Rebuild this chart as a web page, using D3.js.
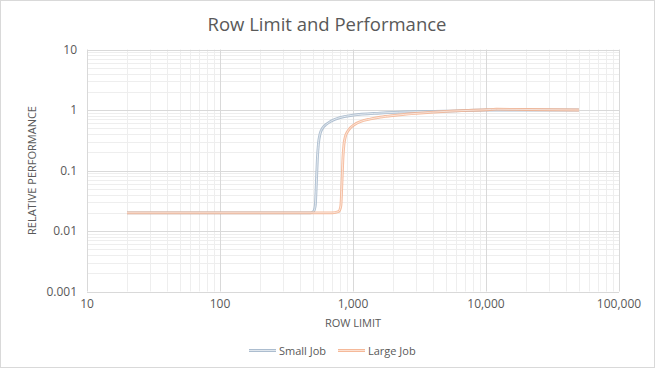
<!DOCTYPE html>
<html><head><meta charset="utf-8">
<script src="https://cdn.jsdelivr.net/npm/d3@7/dist/d3.min.js"></script>
<style>body{margin:0;background:#fff}svg{display:block;font-family:"Open Sans",Lato,sans-serif}</style>
</head><body><svg id="c" width="655" height="368"></svg>
<script>
const smallX = [20, 100, 300, 480, 505, 520, 530, 540, 550, 565, 590, 630, 680, 800, 1000, 1600, 3000, 5000, 10000, 20000, 50000];
const smallY = [0.02, 0.02, 0.02, 0.02, 0.021, 0.026, 0.06, 0.16, 0.28, 0.4, 0.5, 0.58, 0.65, 0.75, 0.82, 0.89, 0.94, 0.96, 1.0, 1.0, 1.0];
const largeX = [20, 100, 300, 700, 780, 810, 825, 840, 855, 875, 905, 950, 1020, 1130, 1350, 1600, 2000, 3000, 5000, 10000, 12000, 20000, 50000];
const largeY = [0.02, 0.02, 0.02, 0.02, 0.021, 0.026, 0.06, 0.16, 0.27, 0.36, 0.43, 0.5, 0.57, 0.64, 0.71, 0.76, 0.81, 0.88, 0.95, 1.01, 1.03, 1.02, 1.0];
const xTicks = [10, 100, 1000, 10000, 100000];
const yTicks = [0.001, 0.01, 0.1, 1, 10];
const seriesNames = ["Small Job", "Large Job"];
const seriesColors = ["#a3b6ca", "#f4b18e"];

const svg = d3.select("#c");
const L = 87, R = 619, T = 49.5, B = 291.5;
const x = d3.scaleLog().domain([10, 100000]).range([L, R]);
const y = d3.scaleLog().domain([0.001, 10]).range([B, T]);

svg.append("rect").attr("x",0.5).attr("y",0.5).attr("width",654).attr("height",367)
  .attr("fill","#fff").attr("stroke","#d9d9d9");

// minor gridlines
const minorX = [], minorY = [];
for (let d = 10; d < 100000; d *= 10) for (let k = 2; k <= 9; k++) minorX.push(d * k);
for (let d = 0.001; d < 9; d *= 10) for (let k = 2; k <= 9; k++) minorY.push(d * k);
const g = svg.append("g");
g.selectAll(".mx").data(minorX).join("line").attr("x1",d=>Math.round(x(d))+0.5).attr("x2",d=>Math.round(x(d))+0.5)
  .attr("y1",T).attr("y2",B).attr("stroke","#eeeeee").attr("stroke-width",1);
g.selectAll(".my").data(minorY).join("line").attr("y1",d=>Math.round(y(d))+0.5).attr("y2",d=>Math.round(y(d))+0.5)
  .attr("x1",L).attr("x2",R).attr("stroke","#eeeeee").attr("stroke-width",1);
g.selectAll(".Mx").data(xTicks).join("line").attr("x1",d=>Math.round(x(d))+0.5).attr("x2",d=>Math.round(x(d))+0.5)
  .attr("y1",T).attr("y2",B).attr("stroke","#d9d9d9");
g.selectAll(".My").data(yTicks).join("line").attr("y1",d=>Math.round(y(d))+0.5).attr("y2",d=>Math.round(y(d))+0.5)
  .attr("x1",L).attr("x2",R).attr("stroke","#d9d9d9");

// axes labels
const fmtX = d3.format(",");
svg.append("g").selectAll("text").data(xTicks).join("text")
  .attr("x",d=>x(d)).attr("y",B+16).attr("text-anchor","middle")
  .attr("font-size",12).attr("fill","#595959").text(d=>fmtX(d));
svg.append("g").selectAll("text").data(yTicks).join("text")
  .attr("x",L-10).attr("y",d=>y(d)+4).attr("text-anchor","end")
  .attr("font-size",12).attr("fill","#595959").text(d=>String(d));

svg.append("text").attr("x",(L+R)/2).attr("y",327).attr("text-anchor","middle")
  .attr("font-size",11).attr("fill","#595959").text("ROW LIMIT");
svg.append("text").attr("transform",`translate(36,${(T+B)/2}) rotate(-90)`).attr("text-anchor","middle")
  .attr("font-size",11).attr("fill","#595959").text("RELATIVE PERFORMANCE");
svg.append("text").attr("x",327).attr("y",31).attr("text-anchor","middle")
  .attr("font-size",18.5).attr("fill","#595959").text("Row Limit and Performance");

// lines
const line = d3.line().x(d=>x(d[0])).y(d=>y(d[1])).curve(d3.curveMonotoneX);
const series = [d3.zip(smallX, smallY), d3.zip(largeX, largeY)];
const lighter = ["#e6ecf2", "#fde8dc"];
series.forEach((s, i) => {
  const gg = svg.append("g").attr("opacity", 0.85);
  gg.append("path").attr("d", line(s)).attr("fill","none").attr("stroke",seriesColors[i]).attr("stroke-width",2.8);
  gg.append("path").attr("d", line(s)).attr("fill","none").attr("stroke",lighter[i]).attr("stroke-width",0.9);
});

// legend
const lg = svg.append("g");
const lx = [249, 338];
seriesNames.forEach((n, i) => {
  lg.append("line").attr("x1",lx[i]).attr("x2",lx[i]+27).attr("y1",350.5).attr("y2",350.5)
    .attr("stroke",seriesColors[i]).attr("stroke-width",2.8);
  lg.append("line").attr("x1",lx[i]).attr("x2",lx[i]+27).attr("y1",350.5).attr("y2",350.5)
    .attr("stroke",lighter[i]).attr("stroke-width",0.9);
  lg.append("text").attr("x",lx[i]+30).attr("y",354.5).attr("font-size",11).attr("fill","#595959").text(n);
});
</script></body></html>
